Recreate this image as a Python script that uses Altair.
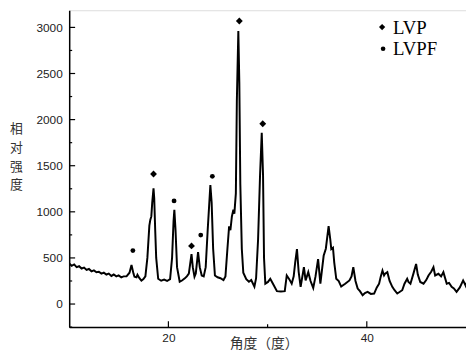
import altair as alt
import pandas as pd

# XRD curve: angle (degrees) and relative intensity
angle = [10.00, 10.25, 10.50, 10.75, 11.00, 11.25, 11.50, 11.75, 11.99, 12.25, 12.49, 12.75, 12.99,
         13.25, 13.49, 13.75, 13.99, 14.25, 14.49, 14.75, 14.98, 15.25, 15.48, 15.78, 16.08, 16.28,
         16.48, 16.58, 16.78, 16.88, 17.08, 17.28, 17.48, 17.68, 17.88, 18.08, 18.18, 18.28, 18.37,
         18.50, 18.57, 18.67, 18.77, 18.97, 19.27, 19.57, 19.87, 20.17, 20.37, 20.52, 20.60, 20.72,
         20.87, 21.14, 21.37, 21.66, 21.86, 22.06, 22.33, 22.46, 22.63, 22.76, 22.99, 23.16, 23.36,
         23.56, 23.76, 23.96, 24.23, 24.36, 24.51, 24.69, 24.96, 25.25, 25.55, 25.75, 25.95, 26.12,
         26.25, 26.40, 26.55, 26.65, 26.80, 26.90, 27.05, 27.15, 27.25, 27.40, 27.55, 27.85, 28.12,
         28.35, 28.67, 28.84, 29.04, 29.24, 29.41, 29.54, 29.64, 29.77, 30.04, 30.27, 30.54, 30.94,
         31.34, 31.73, 31.93, 32.18, 32.43, 32.63, 32.78, 32.96, 33.13, 33.33, 33.66, 33.83, 34.10,
         34.33, 34.60, 34.83, 35.09, 35.32, 35.65, 35.87, 36.15, 36.32, 36.42, 36.59, 36.72, 36.92,
         37.17, 37.42, 37.82, 38.25, 38.46, 38.64, 38.86, 39.08, 39.31, 39.58, 39.81, 40.08, 40.41,
         40.74, 41.01, 41.24, 41.41, 41.58, 41.74, 41.85, 42.07, 42.30, 42.57, 42.80, 43.07, 43.30,
         43.57, 43.80, 44.07, 44.20, 44.40, 44.70, 44.97, 45.14, 45.39, 45.72, 45.99, 46.22, 46.49,
         46.72, 46.89, 47.22, 47.49, 47.72, 48.06, 48.29, 48.55, 48.78, 49.05, 49.38, 49.71, 49.95,
         50.00]
intensity = [440, 415, 430, 400, 410, 385, 395, 370, 380, 355, 365, 345, 350,
             330, 340, 320, 330, 305, 320, 300, 310, 290, 300, 300, 340, 424,
             330, 296, 290, 317, 280, 253, 270, 300, 500, 850, 915, 950, 1100,
             1254, 1150, 800, 500, 274, 253, 265, 250, 270, 500, 900, 1022, 800,
             400, 242, 255, 280, 300, 330, 541, 400, 296, 330, 563, 400, 310,
             300, 400, 800, 1289, 1100, 600, 310, 290, 280, 260, 300, 600, 844,
             800, 950, 1022, 980, 1200, 2200, 2962, 2400, 1300, 600, 340, 270, 242,
             260, 189, 280, 700, 1400, 1858, 1400, 500, 221, 240, 274, 220, 140,
             135, 140, 310, 270, 221, 300, 450, 595, 350, 187, 399, 256, 346,
             250, 175, 300, 488, 221, 523, 600, 844, 700, 595, 610, 450, 274,
             250, 189, 220, 256, 300, 399, 250, 168, 140, 96, 120, 132, 110,
             114, 180, 221, 300, 363, 310, 330, 346, 250, 186, 150, 114, 130,
             150, 220, 274, 240, 221, 330, 435, 320, 239, 221, 260, 310, 350,
             399, 310, 328, 300, 346, 221, 230, 186, 170, 132, 180, 256, 203,
             230]

# peak markers
lvp_angle = [18.50, 22.33, 27.15, 29.51]
lvp_value = [1410, 630, 3069, 1955]
lvpf_angle = [16.42, 20.57, 23.26, 24.43]
lvpf_value = [580, 1118, 748, 1385]

# axis ticks
y_major = [0, 500, 1000, 1500, 2000, 2500, 3000]
y_minor = [-250, 250, 750, 1250, 1750, 2250, 2750]
x_major = [20, 40]
x_minor = [30]

legend_labels = ["LVP", "LVPF"]

W, H = 402, 321
xs = alt.Scale(domain=[10, 50], nice=False, zero=False)
ys = alt.Scale(domain=[-250, 3186], nice=False, zero=False)

x_axis = alt.Axis(values=x_major, format="d", tickSize=0, labelPadding=6, labelFontSize=12,
                  labelFont="Liberation Sans", labelColor="#222", grid=False,
                  domainColor="black", domainWidth=1.5,
                  title="角度（度）", titleFont="Noto Sans CJK SC", titleFontSize=14,
                  titleFontWeight="normal", titleColor="#333",
                  titleX=197, titleY=17, titleAlign="center", titleBaseline="middle")
y_axis = alt.Axis(values=y_major, format="d", tickSize=0, labelPadding=7, labelFontSize=12,
                  labelFont="Liberation Sans", labelColor="#222", grid=False,
                  domainColor="black", domainWidth=1.5,
                  title=["相", "对", "强", "度"], titleFont="Noto Sans CJK SC",
                  titleFontSize=13, titleFontWeight="normal", titleColor="#333",
                  titleAngle=0, titleX=-54, titleY=114, titleAlign="center",
                  titleBaseline="top", titleLineHeight=19)


def X(field):
    return alt.X(field, type="quantitative", scale=xs, axis=x_axis)


def Y(field):
    return alt.Y(field, type="quantitative", scale=ys, axis=y_axis)


curve = pd.DataFrame({"angle": angle, "intensity": intensity})

line = alt.Chart(curve).mark_line(color="black", strokeWidth=2, clip=True).encode(
    x=X("angle"), y=Y("intensity"))

lvp = alt.Chart(pd.DataFrame({"angle": lvp_angle, "intensity": lvp_value})).mark_point(
    shape="diamond", filled=True, color="black", size=48, opacity=1).encode(
    x=X("angle"), y=Y("intensity"))

lvpf = alt.Chart(pd.DataFrame({"angle": lvpf_angle, "intensity": lvpf_value})).mark_point(
    shape="circle", filled=True, color="black", size=24, opacity=1).encode(
    x=X("angle"), y=Y("intensity"))

ymaj = alt.Chart(pd.DataFrame({"intensity": y_major})).mark_rule(color="black", strokeWidth=1.2).encode(
    y=Y("intensity"), x=alt.value(0), x2=alt.value(6))
ymin = alt.Chart(pd.DataFrame({"intensity": y_minor})).mark_rule(color="black", strokeWidth=1.2).encode(
    y=Y("intensity"), x=alt.value(0), x2=alt.value(3))
xmaj = alt.Chart(pd.DataFrame({"angle": x_major})).mark_rule(color="black", strokeWidth=1.2).encode(
    x=X("angle"), y=alt.value(H), y2=alt.value(H - 6))
xmin = alt.Chart(pd.DataFrame({"angle": x_minor})).mark_rule(color="black", strokeWidth=1.2).encode(
    x=X("angle"), y=alt.value(H), y2=alt.value(H - 3))

leg_d = alt.Chart(pd.DataFrame({"t": [legend_labels[0]]})).mark_point(
    shape="diamond", filled=True, color="black", size=40, opacity=1).encode(
    x=alt.value(317), y=alt.value(17))
leg_c = alt.Chart(pd.DataFrame({"t": [legend_labels[1]]})).mark_point(
    shape="circle", filled=True, color="black", size=22, opacity=1).encode(
    x=alt.value(318), y=alt.value(39))
leg_t1 = alt.Chart(pd.DataFrame({"t": [legend_labels[0]]})).mark_text(
    font="Liberation Serif", fontSize=19, align="left", baseline="alphabetic", color="black").encode(
    text="t:N", x=alt.value(328), y=alt.value(24))
leg_t2 = alt.Chart(pd.DataFrame({"t": [legend_labels[1]]})).mark_text(
    font="Liberation Serif", fontSize=19, align="left", baseline="alphabetic", color="black").encode(
    text="t:N", x=alt.value(328), y=alt.value(45))

chart = alt.layer(line, ymaj, ymin, xmaj, xmin, lvp, lvpf, leg_d, leg_c, leg_t1, leg_t2).properties(
    width=W, height=H,
    autosize=alt.AutoSizeParams(type="none"),
    padding={"left": 62, "top": 0, "right": 0, "bottom": 26},
).configure_view(stroke="#555", strokeWidth=1.6).configure(background="white")

chart.save("out.html", embed_options={"renderer": "svg", "actions": False})
